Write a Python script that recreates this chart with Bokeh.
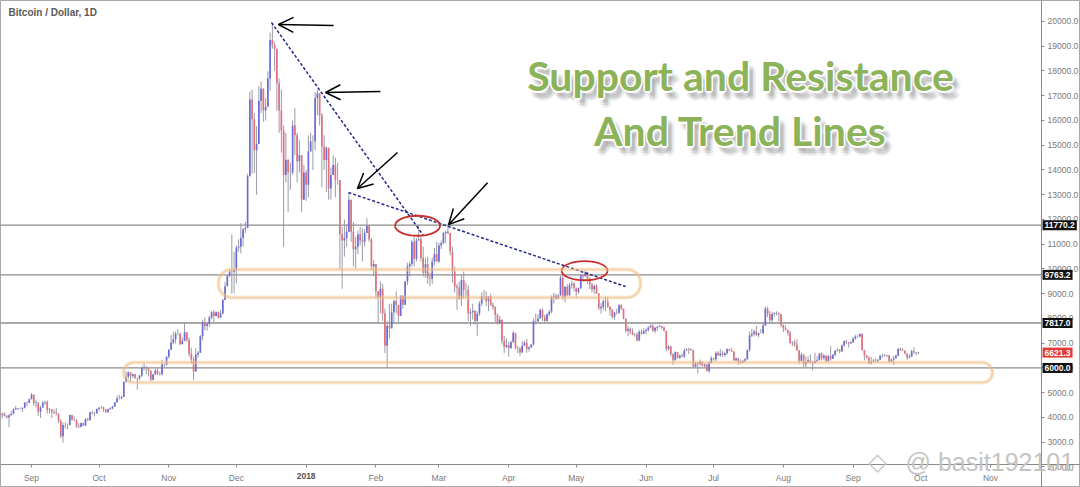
import pandas as pd
from bokeh.plotting import figure
from bokeh.models import (Range1d, Label, BoxAnnotation, Arrow, OpenHead,
                          FixedTicker, SingleIntervalTicker, NumeralTickFormatter, ColumnDataSource)
from bokeh.embed import file_html
from bokeh.resources import INLINE

# ---------------- data (daily close, high, low) ----------------
first_open = 4290
aug17 = [(4110,4370,4000),(4150,4190,3960),(4060,4200,4040),(4000,4100,3950),(4090,4130,3600),
         (4150,4250,4070),(4330,4370,4120),(4370,4470,4300),(4350,4380,4290),(4350,4400,4320),
         (4390,4400,4220),(4590,4630,4360),(4580,4640,4470),(4740,4760,4580)]
sep17 = [(4920,4980,4740),(4580,4940,4470),(4600,4720,4400),(4230,4600,4060),(4400,4470,3980),
         (4600,4660,4400),(4620,4680,4500),(4310,4690,4150),(4330,4380,4160),(4230,4330,3970),
         (4200,4320,4140),(4160,4380,4080),(3870,4170,3780),(3240,3940,3170),(3700,3800,2980),
         (3690,3800,3550),(3690,3760,3520),(4100,4120,3690),(3910,4110,3880),(3890,4040,3850),
         (3620,3920,3580),(3610,3770,3560),(3780,3790,3600),(3670,3790,3660),(3930,3970,3670),
         (3890,3990,3860),(4210,4220,3890),(4190,4270,4120),(4170,4230,4040),(4340,4360,4160)]
oct17 = [(4400,4400,4280),(4410,4470,4360),(4320,4440,4220),(4230,4330,4180),(4330,4360,4170),
         (4370,4420,4310),(4440,4470,4330),(4610,4620,4430),(4770,4880,4590),(4780,4920,4730),
         (4830,4880,4740),(5440,5450,4830),(5640,5860,5400),(5830,5860,5560),(5680,5840,5450),
         (5750,5780,5590),(5600,5770,5550),(5580,5600,5120),(5700,5720,5510),(6000,6070,5640),
         (6030,6190,5900),(5980,6080,5740),(5900,6030,5660),(5520,5900,5460),(5740,5760,5490),
         (5890,5960,5720),(5770,5990,5720),(5750,5850,5700),(6150,6320,5690),(6130,6180,6040),
         (6450,6470,6100)]
nov17 = [(6740,6760,6380),(7030,7330,6750),(7160,7460,6960),(7380,7480,6990),(7380,7580,7320),
         (6960,7420,6920),(7100,7230,6960),(7440,7860,7080),(7130,7420,7050),(6580,7240,6460),
         (6340,6820,6180),(5860,6460,5510),(6530,6800,5860),(6610,6680,6420),(7280,7330,6610),
         (7850,7950,7120),(7700,8050,7530),(7790,7860,7500),(8040,8110,7670),(8250,8300,7970),
         (8100,8350,7820),(8250,8290,8080),(8030,8280,8000),(8200,8340,8030),(8750,8790,8170),
         (9300,9470,8750),(9730,9740,9300),(9900,9980,9680),(9880,11400,9000),(9950,10690,9020)]
dec17 = [(10860,10950,9430),(10900,11200,10700),(11250,11850,10630),(11600,11650,10920),
         (11660,11900,11450),(13750,13850,11650),(16850,17170,13750),(16050,17250,13850),
         (14800,16300,13880),(15050,15780,13000),(16800,17390,15050),(17280,17580,16300),
         (16400,17300,15950),(16550,16900,16000),(17700,17990,16550),(19250,19550,17200),
         (19050,19900,18900),(18900,19180,18000),(17500,18900,16400),(16400,17700,15500),
         (15600,17250,14700),(13800,15800,10900),(14400,15500,13500),(13900,14450,12300),
         (13900,14300,13200),(15800,16000,13800),(15400,16500,14600),(14350,15500,13500),
         (14600,15200,13900),(12800,14600,12300),(13900,14200,12800)]
jan18 = [(13400,14000,12750),(14750,15400,12900),(15150,15500,14800),(15150,15400,14000),
         (16900,17150,14800),(17100,17250,16200),(16200,17100,15800),(14950,16300,13300),
         (14400,15400,14000),(14900,14950,13100),(13250,14900,12800),(13800,14100,12800),
         (14200,14600,13800),(13600,14500,12900),(13600,14300,13400),(11400,13600,10000),
         (11150,11700,9200),(11250,12000,10500),(11500,11800,10900),(12800,13050,11500),
         (11500,12800,11100),(10800,11900,10100),(10900,11300,10000),(11400,11550,10600),
         (11150,11700,10950),(11100,11650,10300),(11450,11600,10900),(11750,12050,11450),
         (11200,11750,11100),(10100,11250,9950),(10200,10350,9700)]
feb18 = [(9100,10200,8800),(8850,9100,7800),(9200,9500,8200),(8200,9400,7900),(6900,8400,6600),
         (7700,7900,6000),(7600,8600,7200),(8250,8600,7600),(8700,8750,7800),(8550,9100,8200),
         (8100,8550,7850),(8900,8950,8100),(8550,8950,8400),(9500,9500,8550),(10100,10250,9350),
         (10200,10300,9700),(11100,11150,10100),(10400,11300,10100),(11150,11250,10300),
         (11200,11780,11150),(10450,11300,10300),(9850,10900,9700),(10200,10450,9650),
         (9650,10500,9400),(9600,9850,9300),(10300,10450,9400),(10600,10850,10150),(10300,11100,10300)]
mar18 = [(10950,11050,10250),(11050,11150,10800),(11450,11500,11000),(11500,11550,11050),
         (11450,11750,11400),(10700,11450,10550),(9900,10900,9450),(9300,10100,9050),
         (9250,9400,8350),(8800,9500,8750),(9550,9750,8500),(9150,9900,8800),(9150,9450,8850),
         (8200,9350,7900),(8250,8400,7700),(8300,8600,7950),(7900,8350,7750),(8200,8300,7300),
         (8600,8700,8100),(8900,9050,8500),(8900,9150,8750),(8700,9100,8500),(8900,8900,8300),
         (8550,9000,8500),(8450,8650,8350),(8150,8500,7850),(7800,8200,7750),(7950,8100,7800),
         (7100,7950,6950),(6850,7300,6600),(6930,7200,6800)]
apr18 = [(6800,7050,6450),(7050,7100,6780),(7420,7500,7020),(6800,7420,6750),(6780,6900,6600),
         (6620,6850,6500),(6900,7080,6620),(7020,7100,6900),(6770,7180,6610),(6830,6880,6660),
         (6950,6970,6800),(7900,8000,6900),(7890,8200,7760),(8000,8170,7830),(8350,8400,8000),
         (8050,8400,7900),(7900,8150,7840),(8170,8200,7870),(8280,8330,8100),(8860,8930,8210),
         (8920,9030,8600),(8800,9000,8760),(8930,8980,8780),(9650,9730,8910),(8870,9750,8750),
         (9280,9300,8650),(8940,9380,8900),(9350,9430,8890),(9400,9530,9200),(9240,9480,9100)]
may18 = [(9070,9250,8850),(9220,9250,9000),(9750,9800,9200),(9700,9740,9500),(9860,9950,9700),
         (9620,9870,9400),(9370,9650,9180),(9180,9450,9050),(9310,9370,8990),(9010,9390,9000),
         (8410,9020,8350),(8470,8620,8200),(8700,8780,8330),(8670,8880,8300),(8470,8850,8430),
         (8340,8490,8110),(8060,8390,7990),(8240,8270,7950),(8230,8390,8160),(8530,8580,8180),
         (8400,8580,8330),(7990,8400,7970),(7500,8010,7430),(7580,7720,7280),(7460,7640,7360),
         (7340,7600,7320),(7350,7400,7260),(7110,7440,7070),(7460,7530,7080),(7390,7550,7340),
         (7490,7600,7380)]
jun18 = [(7530,7600,7370),(7640,7690,7470),(7710,7760,7600),(7500,7760,7460),(7620,7650,7400),
         (7660,7690,7500),(7690,7750,7650),(7620,7700,7560),(7500,7680,7480),(6770,7500,6670),
         (6870,6920,6700),(6550,6890,6460),(6310,6600,6120),(6640,6680,6300),(6400,6640,6390),
         (6500,6550,6370),(6460,6580,6440),(6710,6800,6400),(6740,6800,6680),(6760,6820,6570),
         (6720,6790,6700),(6050,6730,5990),(6180,6250,6040),(6150,6250,5780),(6250,6340,6090),
         (6090,6270,6060),(6150,6180,6000),(5880,6170,5850),(6200,6270,5800),(6390,6480,6180)]
jul18 = [(6350,6420,6300),(6610,6670,6280),(6510,6680,6480),(6590,6770,6450),(6530,6700,6450),
         (6600,6630,6450),(6760,6800,6520),(6710,6780,6690),(6660,6810,6650),(6300,6690,6290),
         (6390,6420,6300),(6250,6400,6120),(6220,6340,6150),(6270,6320,6210),(6350,6400,6260),
         (6730,6740,6340),(7320,7470,6660),(7380,7580,7250),(7470,7550,7280),(7330,7700,7300),
         (7400,7440,7240),(7400,7580,7390),(7720,7790,7390),(8400,8480,7700),(8170,8480,8060),
         (7930,8300,7870),(8180,8270,7800),(8230,8230,8080),(8210,8290,8120),(8170,8250,7880),
         (7730,8180,7650)]
aug18 = [(7600,7750,7450),(7530,7720,7500),(7410,7530,7300),(7010,7500,6960),(7030,7080,6880),
         (6940,7150,6860),(6720,7150,6690),(6280,6720,6150),(6540,6620,6250),(6150,6560,6040),
         (6240,6480,6000),(6320,6470,6200),(6260,6550,6180),(6190,6260,5900),(6270,6620,6200),
         (6320,6480,6250),(6580,6590,6300),(6400,6620,6310),(6490,6560,6320),(6270,6530,6250),
         (6490,6500,6260),(6370,6880,6300),(6530,6560,6360),(6700,6720,6470),(6730,6800,6660),
         (6670,6770,6600),(6910,6950,6660),(7080,7120,6870),(7040,7140,6960),(6990,7050,6830),
         (7030,7090,6980)]
sep18 = [(7190,7240,7020),(7270,7330,7140),(7270,7350,7220),(7370,7400,7240),(6730,7400,6700),
         (6510,6730,6300),(6420,6530,6380),(6190,6470,6150),(6250,6440,6140),(6300,6370,6250),
         (6280,6400,6210),(6330,6350,6200),(6490,6530,6320),(6490,6580,6410),(6520,6560,6470),
         (6500,6530,6440),(6250,6540,6220),(6340,6390,6230),(6390,6500,6120),(6490,6540,6370),
         (6770,6800,6480),(6720,6830,6690),(6700,6800,6680),(6580,6720,6550),(6420,6590,6330),
         (6460,6560,6380),(6680,6730,6440),(6630,6830,6560),(6600,6640,6510),(6621.3,6650,6550)]

month_blocks = [("2017-08-18", aug17), ("2017-09-01", sep17), ("2017-10-01", oct17),
                ("2017-11-01", nov17), ("2017-12-01", dec17), ("2018-01-01", jan18),
                ("2018-02-01", feb18), ("2018-03-01", mar18), ("2018-04-01", apr18),
                ("2018-05-01", may18), ("2018-06-01", jun18), ("2018-07-01", jul18),
                ("2018-08-01", aug18), ("2018-09-01", sep18)]

levels = [11770.2, 9763.2, 7817.0, 6000.0]
last_price = 6621.3
month_labels = ["Sep", "Oct", "Nov", "Dec", "2018", "Feb", "Mar", "Apr", "May",
                "Jun", "Jul", "Aug", "Sep", "Oct", "Nov"]

origin = pd.Timestamp("2017-09-01")
xs, opens, closes, highs, lows = [], [], [], [], []
prev = first_open
for start, block in month_blocks:
    d0 = pd.Timestamp(start)
    for i, (c, h, l) in enumerate(block):
        day = (d0 + pd.Timedelta(days=i) - origin).days
        xs.append(day)
        opens.append(prev)
        closes.append(c)
        highs.append(max(h, prev, c))
        lows.append(min(l, prev, c))
        prev = c

up = [c >= o for o, c in zip(opens, closes)]
src = ColumnDataSource(dict(
    x=xs, high=highs, low=lows,
    top=[max(o, c) for o, c in zip(opens, closes)],
    bottom=[min(o, c) for o, c in zip(opens, closes)],
    color=["#6c6cd8" if u else "#e0727c" for u in up],
))

month_starts = pd.date_range("2017-09-01", "2018-11-01", freq="MS")
tick_pos = [int((m - origin).days) for m in month_starts]

# chart area limits (axes drawn at these positions)
X_LEFT, X_AXIS, X_END = -13.77, 448.7, 466.0   # left edge, right price axis, canvas end
Y_BOTTOM, Y_AXIS, Y_TOP = 1170, 2100, 20848    # canvas bottom, time axis, top edge

# ---------------- figure ----------------
p = figure(width=1080, height=487,
           x_range=Range1d(X_LEFT, X_END), y_range=Range1d(Y_BOTTOM, Y_TOP),
           y_axis_location="right", output_backend="svg", toolbar_location=None,
           min_border_left=0, min_border_right=0, min_border_top=0, min_border_bottom=0,
           background_fill_color="white", border_fill_color="white",
           outline_line_color="#a8a8a8")
p.grid.visible = False

# y axis (price scale on the right)
p.yaxis.fixed_location = X_AXIS
p.yaxis.ticker = SingleIntervalTicker(interval=1000)
p.yaxis.formatter = NumeralTickFormatter(format="0.0")
p.yaxis.major_label_text_font = "Liberation Sans"
p.yaxis.major_label_text_font_size = "8.5px"
p.yaxis.major_label_text_color = "#7a7a7a"
p.yaxis.axis_line_color = "#8a8a8a"
p.yaxis.major_tick_line_color = "#8a8a8a"
p.yaxis.major_tick_out = 3
p.yaxis.major_tick_in = 0
p.yaxis.minor_tick_line_color = None
p.yaxis.major_label_standoff = 2

# x axis (time scale)
p.xaxis.fixed_location = Y_AXIS
p.xaxis.ticker = FixedTicker(ticks=tick_pos)
p.xaxis.major_label_overrides = {t: (lab if lab != "2018" else " ")
                                 for t, lab in zip(tick_pos, month_labels)}
p.xaxis.major_label_text_font = "Liberation Sans"
p.xaxis.major_label_text_font_size = "8.5px"
p.xaxis.major_label_text_color = "#7a7a7a"
p.xaxis.axis_line_color = "#8a8a8a"
p.xaxis.major_tick_line_color = "#8a8a8a"
p.xaxis.major_tick_out = 3
p.xaxis.major_tick_in = 0
p.xaxis.minor_tick_line_color = None
p.xaxis.major_label_standoff = 6

p.add_layout(Label(x=tick_pos[month_labels.index("2018")], y=Y_AXIS, y_offset=-9,
                   text="2018", text_align="center", text_baseline="top",
                   text_font="Liberation Sans", text_font_size="8.5px",
                   text_font_style="bold", text_color="#555555"))

# level lines (from left edge to the price axis)
p.segment(x0=[X_LEFT] * len(levels), y0=levels, x1=[X_AXIS] * len(levels), y1=levels,
          line_color="#8c8c8c", line_width=1.3)

# candles
p.segment(x0="x", y0="high", x1="x", y1="low", source=src, line_color="#9a9aa8", line_width=1)
p.vbar(x="x", width=0.75, top="top", bottom="bottom", source=src,
       fill_color="color", line_color=None)

# orange support/resistance zones
zones = [dict(left=83.1, right=270.5, top=9978, bottom=8846),
         dict(left=40.9, right=426.9, top=6220, bottom=5412)]
for z in zones:
    p.add_layout(BoxAnnotation(**z, border_radius=13, fill_alpha=0,
                               line_color="#f4cfa2", line_width=4, line_alpha=0.45))
    p.add_layout(BoxAnnotation(**z, border_radius=13, fill_alpha=0,
                               line_color="#e29a4c", line_width=1.7))

# trend lines
trend_lines = [([106.6, 174.1], [19958, 11352]), ([140.8, 263.9], [13089, 9291])]
for tx, ty in trend_lines:
    p.line(tx, ty, line_color="#25258f", line_width=1.5, line_dash="3 2")

# red ellipses
p.ellipse(x=[171.5, 245.7], y=[11747, 9929], width=[20, 20.4], height=[808, 770],
          fill_alpha=0, line_color="#c8302f", line_width=1.8)

# black arrows
arrows = [(134.2, 19836, 109.7, 19877), (155.0, 17170, 130.6, 17129),
          (162.6, 14705, 144.8, 13251), (202.6, 13487, 185.3, 11790)]
for xs0, ys0, xe, ye in arrows:
    p.add_layout(Arrow(x_start=xs0, y_start=ys0, x_end=xe, y_end=ye,
                       line_color="black", line_width=1.5,
                       end=OpenHead(size=15, line_color="black", line_width=1.5)))

# price labels on the axis
for lv in levels:
    p.add_layout(Label(x=X_AXIS, y=lv, x_offset=1, text=f"{lv:.1f}", text_align="left",
                       text_baseline="middle", text_font="Liberation Sans",
                       text_font_size="8.5px", text_font_style="bold", text_color="white",
                       background_fill_color="#111111", padding=2))
p.add_layout(Label(x=X_AXIS, y=last_price, x_offset=1, text=f"{last_price:.1f}",
                   text_align="left", text_baseline="middle", text_font="Liberation Sans",
                   text_font_size="8.5px", text_font_style="bold", text_color="white",
                   background_fill_color="#e53935", padding=2))

# header
p.add_layout(Label(x=-10.2, y=20360, text="Bitcoin / Dollar, 1D", text_align="left",
                   text_baseline="middle", text_font="Liberation Sans", text_font_size="10px",
                   text_font_style="bold", text_color="#5a5a5a"))

# big title with shadow and outline
title_lines = [("Support and Resistance", 17815), ("And Trend Lines", 15594)]
title_x = 315
fs = "41px"
for txt, ty in title_lines:
    for dx, dy in [(3, -5), (5, -7), (7, -9), (4, -8), (6, -5), (2, -7), (8, -7), (5, -10), (5, -4)]:
        p.add_layout(Label(x=title_x, y=ty, x_offset=dx, y_offset=dy, text=txt,
                           text_align="center", text_baseline="middle", text_font="Lato",
                           text_font_size=fs, text_font_style="bold",
                           text_color="#555555", text_alpha=0.08))
    for dx, dy in [(-1.5, 0), (1.5, 0), (0, -1.5), (0, 1.5), (-1, -1), (1, 1), (-1, 1), (1, -1)]:
        p.add_layout(Label(x=title_x, y=ty, x_offset=dx, y_offset=dy, text=txt,
                           text_align="center", text_baseline="middle", text_font="Lato",
                           text_font_size=fs, text_font_style="bold", text_color="white"))
    p.add_layout(Label(x=title_x, y=ty, text=txt, text_align="center", text_baseline="middle",
                       text_font="Lato", text_font_size=fs, text_font_style="bold",
                       text_color="#8db35a"))

# watermark
p.add_layout(Label(x=375.8, y=2220, text="◇", text_align="center", text_baseline="middle",
                   text_font="DejaVu Sans", text_font_size="24px", text_color="#c8c8c8"))
p.add_layout(Label(x=388.3, y=2220, text="@ basit192101", text_align="left",
                   text_baseline="middle", text_font="Liberation Sans", text_font_size="25px",
                   text_color="#c4c4c4"))

open("out.html", "w").write(file_html(p, INLINE))
